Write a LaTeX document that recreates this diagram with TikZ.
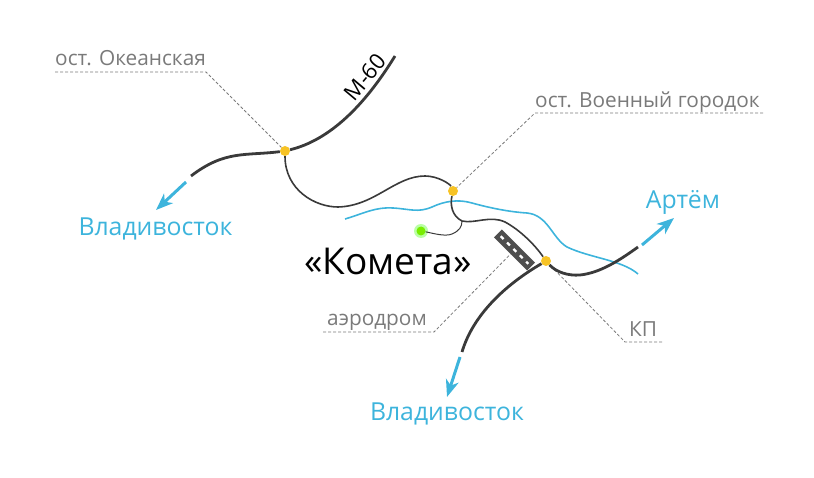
\documentclass[tikz,border=0pt]{standalone}
\usepackage{fontspec}
\setmainfont{Open Sans}
\usetikzlibrary{arrows.meta,calc}
\definecolor{roadc}{HTML}{3A3A3A}
\definecolor{bluec}{HTML}{3DB4DC}
\definecolor{grayt}{HTML}{7A7A7A}
\definecolor{junc}{HTML}{F7C325}
\tikzset{
  road/.style={draw=roadc,line width=2.8pt},
  lane/.style={draw=roadc,line width=1.6pt},
  river/.style={draw=bluec,line width=1.6pt},
  dir/.style={draw=bluec,line width=3pt,-{Stealth[length=17pt,width=13pt,inset=5pt]}},
  leader/.style={draw=grayt,line width=.8pt,densely dashed},
  jn/.style={circle,fill=junc,inner sep=0pt,minimum size=10pt},
  city/.style={text=bluec,font=\fontsize{24.8}{25}\selectfont,inner sep=0pt},
  lab/.style={text=grayt,font=\fontsize{20.8}{21}\selectfont,inner sep=0pt,anchor=base west}
}
\begin{document}
\begin{tikzpicture}[x=1pt,y=-1pt]
\useasboundingbox (0,0) rectangle (814,478);
% free ends
\coordinate (m60) at (395,56);
\coordinate (wend) at (191,176);
\coordinate (send) at (462,352);
\coordinate (eend) at (638,247);
\coordinate (fork) at (462,221);
% rivers
\draw[river] (345,219) .. controls (365,213) and (375,207) .. (393,208)
  .. controls (410,209) and (418,213) .. (432,207)
  .. controls (445,201) and (458,199) .. (472,203)
  .. controls (490,208) and (510,212) .. (527,213)
  .. controls (548,215) and (552,238) .. (567,247)
  .. controls (590,258) and (622,260) .. (638,274);
% junctions
\node[jn] (oke) at (285,151) {};
\node[jn] (voe) at (453,191) {};
\node[jn] (kp) at (546,261) {};
% green point
\fill[green!70!lime,opacity=.35] (421,231) circle (7pt);
\node[circle,fill=black!10!lime!70!green,inner sep=0pt,minimum size=9pt] (kom) at (421,231) {};
% leaders
\coordinate (l1a) at (55,72); \coordinate (l1b) at (206,72);
\coordinate (l2a) at (763,113); \coordinate (l2b) at (535,113);
\coordinate (l3a) at (323,332); \coordinate (l3b) at (434,332);
\coordinate (l4a) at (662,342); \coordinate (l4b) at (625,342);
% airstrip
\node[fill=roadc!90!white,minimum width=47pt,minimum height=11pt,inner sep=0pt,rotate=-45] (air) at (514.5,250) {};
\draw[white,line width=2.2pt,dash pattern=on 4pt off 5pt] ($(air.west)+(3,3)$) -- ($(air.east)+(-3,-3)$);
\draw[leader] (l1a) -- (l1b) -- (oke);
\draw[leader] (l2a) -- (l2b) -- (voe);
\draw[leader] (l3a) -- (l3b) -- (air);
\draw[leader] (l4a) -- (l4b) -- (kp);
% roads
\draw[road] (m60) .. controls (365,105) and (330,140) .. (oke);
\draw[road] (wend) .. controls (225,150) and (245,156) .. (oke);
\draw[lane] (oke) .. controls (285,190) and (315,207) .. (338,207)
  .. controls (375,206) and (395,176) .. (425,176)
  .. controls (438,176) and (450,184) .. (voe);
\draw[lane] (voe) .. controls (450,205) and (452,216) .. (fork)
  .. controls (475,224) and (490,215) .. (505,222)
  .. controls (520,230) and (535,245) .. (kp);
\draw[line width=1pt,draw=roadc] (kom) .. controls (432,233) and (445,237) .. (452,234)
  .. controls (459,231) and (462,227) .. (fork);
\draw[road] (kp) .. controls (556,272) and (568,276) .. (580,275)
  .. controls (600,273) and (620,260) .. (eend);
\draw[road] (kp) .. controls (505,285) and (473,315) .. (send);
% direction arrows
\coordinate (wa) at (186,182); \coordinate (wb) at (156,210);
\coordinate (sa) at (460,357); \coordinate (sb) at (447,397);
\coordinate (ea) at (642,245); \coordinate (eb) at (674,218);
\draw[dir] (wa) -- (wb);
\draw[dir] (sa) -- (sb);
\draw[dir] (ea) -- (eb);
% labels
\node[lab] (t1) at (55,66) {ост. Океанская};
\node[lab] (t2) at (535,108) {ост. Военный городок};
\node[lab] (t3) at (327,326) {аэродром};
\node[lab] (t4) at (629,337) {КП};
\node[city] (t5) at (155.5,228.5) {Владивосток};
\node[city] (t6) at (447,413.5) {Владивосток};
\node[city] (t7) at (683,202) {Артём};
\node[inner sep=0pt,font=\fontsize{37}{37}\selectfont] (t8) at (388,261) {«Комета»};
\node[inner sep=0pt,rotate=50,font=\fontsize{22}{22}\selectfont] (t9) at (365,77) {М-60};
\end{tikzpicture}
\end{document}
